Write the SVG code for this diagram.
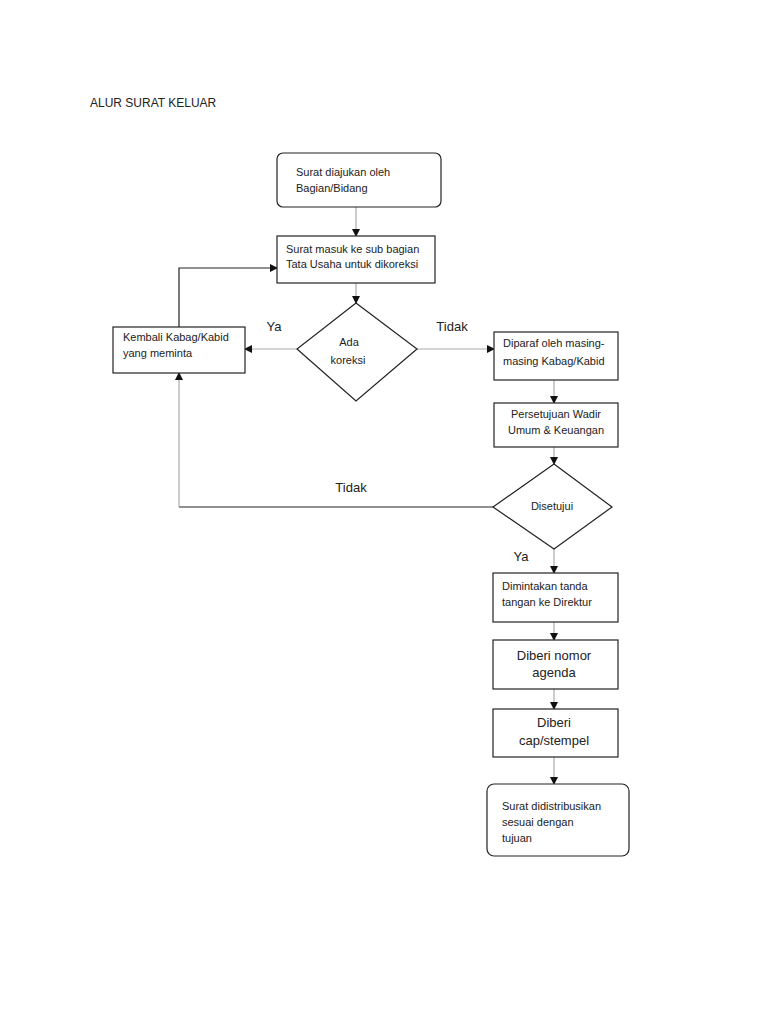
<svg xmlns="http://www.w3.org/2000/svg" width="768" height="1024" viewBox="0 0 768 1024">
<defs>
<marker id="ah" markerWidth="8" markerHeight="8" refX="7" refY="4" orient="auto" markerUnits="userSpaceOnUse">
<path d="M0,0 L8,4 L0,8 z" fill="#111"/>
</marker>
<style>
.box{fill:#fff;stroke:#222;stroke-width:1.2}
.t{font-family:"Liberation Sans",Arial,sans-serif;font-size:11px;fill:#222}
.tl{font-family:"Liberation Sans",Arial,sans-serif;font-size:13px;fill:#222}
.c{text-anchor:middle}
.ln{fill:none;stroke:#222;stroke-width:1.2}
.lg{fill:none;stroke:#aaa;stroke-width:1.2}
</style>
</defs>
<rect width="768" height="1024" fill="#fff"/>
<text x="90" y="107" class="tl" style="font-size:12px">ALUR SURAT KELUAR</text>

<g id="connectors">
<line x1="356" y1="207" x2="356" y2="236" class="lg" marker-end="url(#ah)"/>
<line x1="356" y1="283" x2="356" y2="303" class="lg" marker-end="url(#ah)"/>
<line x1="297" y1="349" x2="245" y2="349" class="lg" marker-end="url(#ah)"/>
<polyline points="179,327 179,268 277,268" class="ln" marker-end="url(#ah)"/>
<line x1="417" y1="349" x2="494" y2="349" class="lg" marker-end="url(#ah)"/>
<line x1="554" y1="380" x2="554" y2="403" class="lg" marker-end="url(#ah)"/>
<line x1="554" y1="447" x2="554" y2="464" class="lg" marker-end="url(#ah)"/>
<line x1="493" y1="507" x2="179" y2="507" class="ln"/>
<line x1="179" y1="507" x2="179" y2="373" class="lg" marker-end="url(#ah)"/>
<line x1="554" y1="549" x2="554" y2="573" class="lg" marker-end="url(#ah)"/>
<line x1="554" y1="622" x2="554" y2="640" class="lg" marker-end="url(#ah)"/>
<line x1="554" y1="689" x2="554" y2="709" class="lg" marker-end="url(#ah)"/>
<line x1="554" y1="757" x2="554" y2="784" class="lg" marker-end="url(#ah)"/>
<text x="274" y="331" class="tl c">Ya</text>
<text x="452" y="331" class="tl c">Tidak</text>
<text x="351" y="492" class="tl c">Tidak</text>
<text x="521" y="561" class="tl c">Ya</text>
</g>

<g id="n1">
<rect x="277" y="153" width="164" height="54" rx="6" class="box"/>
<text x="296" y="176" class="t">Surat diajukan oleh</text>
<text x="296" y="192" class="t">Bagian/Bidang</text>
</g>
<g id="n2">
<rect x="277" y="236" width="158" height="47" class="box"/>
<text x="286" y="253" class="t">Surat masuk ke sub bagian</text>
<text x="286" y="268" class="t">Tata Usaha untuk dikoreksi</text>
</g>
<g id="n3">
<polygon points="356,303 417,349 356,401 297,349" class="box"/>
<text x="349" y="346" class="t c">Ada</text>
<text x="348" y="364" class="t c">koreksi</text>
</g>
<g id="n4">
<rect x="113" y="327" width="132" height="46" class="box"/>
<text x="123" y="341" class="t">Kembali Kabag/Kabid</text>
<text x="123" y="357" class="t">yang meminta</text>
</g>
<g id="n5">
<rect x="494" y="332" width="124" height="48" class="box"/>
<text x="503" y="347" class="t">Diparaf oleh masing-</text>
<text x="503" y="365" class="t">masing Kabag/Kabid</text>
</g>
<g id="n6">
<rect x="494" y="403" width="124" height="44" class="box"/>
<text x="556" y="418" class="t c">Persetujuan Wadir</text>
<text x="556" y="434" class="t c">Umum &amp; Keuangan</text>
</g>
<g id="n7">
<polygon points="554,464 612,507 554,549 493,507" class="box"/>
<text x="552" y="510" class="t c">Disetujui</text>
</g>
<g id="n8">
<rect x="493" y="573" width="125" height="49" class="box"/>
<text x="502" y="590" class="t">Dimintakan tanda</text>
<text x="502" y="606" class="t">tangan ke Direktur</text>
</g>
<g id="n9">
<rect x="493" y="640" width="125" height="49" class="box"/>
<text x="554" y="660" class="tl c">Diberi nomor</text>
<text x="554" y="677" class="tl c">agenda</text>
</g>
<g id="n10">
<rect x="493" y="709" width="125" height="48" class="box"/>
<text x="554" y="727" class="tl c">Diberi</text>
<text x="554" y="745" class="tl c">cap/stempel</text>
</g>
<g id="n11">
<rect x="487" y="784" width="142" height="72" rx="7" class="box"/>
<text x="502" y="810" class="t">Surat didistribusikan</text>
<text x="502" y="826" class="t">sesuai dengan</text>
<text x="502" y="842" class="t">tujuan</text>
</g>
</svg>
